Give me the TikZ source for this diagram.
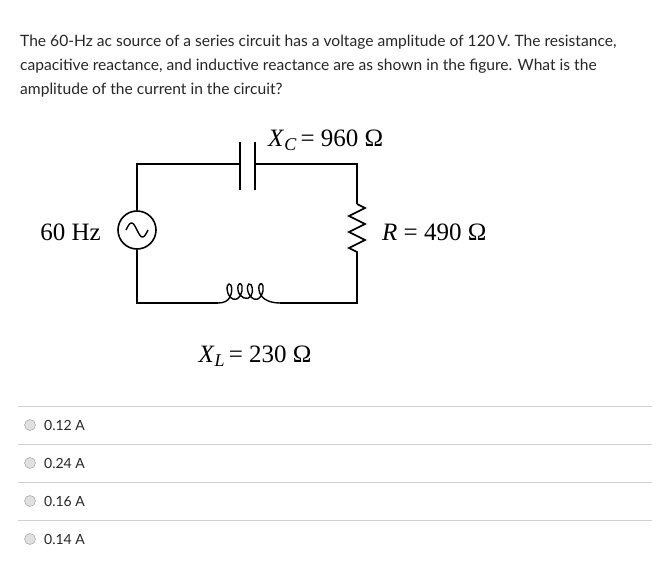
\documentclass[tikz,border=0pt]{standalone}
\usepackage{fontspec}
\setmainfont{Lato}
\newfontfamily\tms{Liberation Serif}
\begin{document}
\begin{tikzpicture}[x=1pt,y=-1pt,
  wire/.style={line width=1.6pt,line join=miter},
  qtext/.style={anchor=west,inner sep=0pt,font=\fontsize{15.6}{17}\selectfont,text=black!85},
  atext/.style={anchor=west,inner sep=0pt,font=\fontsize{14}{16}\selectfont,text=black!85},
  ctext/.style={inner sep=0pt,font=\tms\fontsize{25}{27}\selectfont},
  sep/.style={draw=black!18,line width=0.8pt},
  radio/.style={circle,draw=black!40,fill=black!12,minimum size=11pt,inner sep=0pt}]
\useasboundingbox (0,0) rectangle (670,564);
\node[qtext] (q1) at (20,42) {The 60-Hz ac source of a series circuit has a voltage amplitude of 120\,V. The resistance,};
\node[qtext] (q2) at (20,66) {capacitive reactance, and inductive reactance are as shown in the figure. What is the};
\node[qtext] (q3) at (20,90) {amplitude of the current in the circuit?};
% circuit
\coordinate (tl) at (137,164); \coordinate (tr) at (357,164);
\coordinate (bl) at (137,303); \coordinate (br) at (357,303);
\node[circle,draw,line width=1.6pt,minimum size=38pt,inner sep=0pt] (src) at (137,230) {};
\draw[line width=1.4pt] plot[domain=-11:11,samples=30] ({137+\x},{230+7*sin(\x/11*180)});
\coordinate (c1) at (240,164); \coordinate (c2) at (255,164);
\draw[wire] (src.north) -- (tl) -- (c1);
\draw[wire] (240,142) -- (240,190);
\draw[wire] (255,142) -- (255,190);
\coordinate (r1) at (357,204); \coordinate (r2) at (357,256);
\draw[wire] (c2) -- (tr) -- (r1);
\draw[wire] (r1) -- (365,208) -- (349,216) -- (365,224) -- (349,232) -- (365,240) -- (349,248) -- (357,252) -- (r2);
\coordinate (l1) at (218,303); \coordinate (l2) at (280,303);
\draw[wire] (r2) -- (br) -- (l2);
\draw[wire] (src.south) -- (bl) -- (l1);
\draw[line width=1.4pt] (l1) .. controls (224,303) and (228,301) .. (230,297)
  .. controls (233,290) and (232,284) .. (229,284) .. controls (226,284) and (226,296) .. (233,299)
  .. controls (240,301) and (243,292) .. (242,286) .. controls (241,282) and (237,283) .. (238,290)
  .. controls (239,298) and (248,301) .. (251,296) .. controls (254,291) and (252,283) .. (249,284)
  .. controls (246,285) and (247,296) .. (254,299) .. controls (261,301) and (264,292) .. (263,286)
  .. controls (262,282) and (258,283) .. (259,290) .. controls (260,298) and (268,303) .. (l2);
\node[ctext,anchor=east] (fl) at (101,232) {60 Hz};
\node[ctext,anchor=west] (xc) at (268,140) {\textit{X}\raisebox{-0.35ex}{\fontsize{18}{19}\selectfont\textit{C}}\,= 960 Ω};
\node[ctext,anchor=west] (rl) at (382,232) {\textit{R} = 490 Ω};
\node[ctext] (xl) at (255,356) {\textit{X}\raisebox{-0.35ex}{\fontsize{18}{19}\selectfont\textit{L}}\,= 230 Ω};
% answers
\draw[sep] (18,406) -- (652,406);
\draw[sep] (18,444) -- (652,444);
\draw[sep] (18,482) -- (652,482);
\draw[sep] (18,520) -- (652,520);
\node[radio] (o1) at (30,425) {}; \node[atext] (a1) at (44,425) {0.12 A};
\node[radio] (o2) at (30,463) {}; \node[atext] (a2) at (44,463) {0.24 A};
\node[radio] (o3) at (30,501) {}; \node[atext] (a3) at (44,501) {0.16 A};
\node[radio] (o4) at (30,539) {}; \node[atext] (a4) at (44,539) {0.14 A};
\end{tikzpicture}
\end{document}
